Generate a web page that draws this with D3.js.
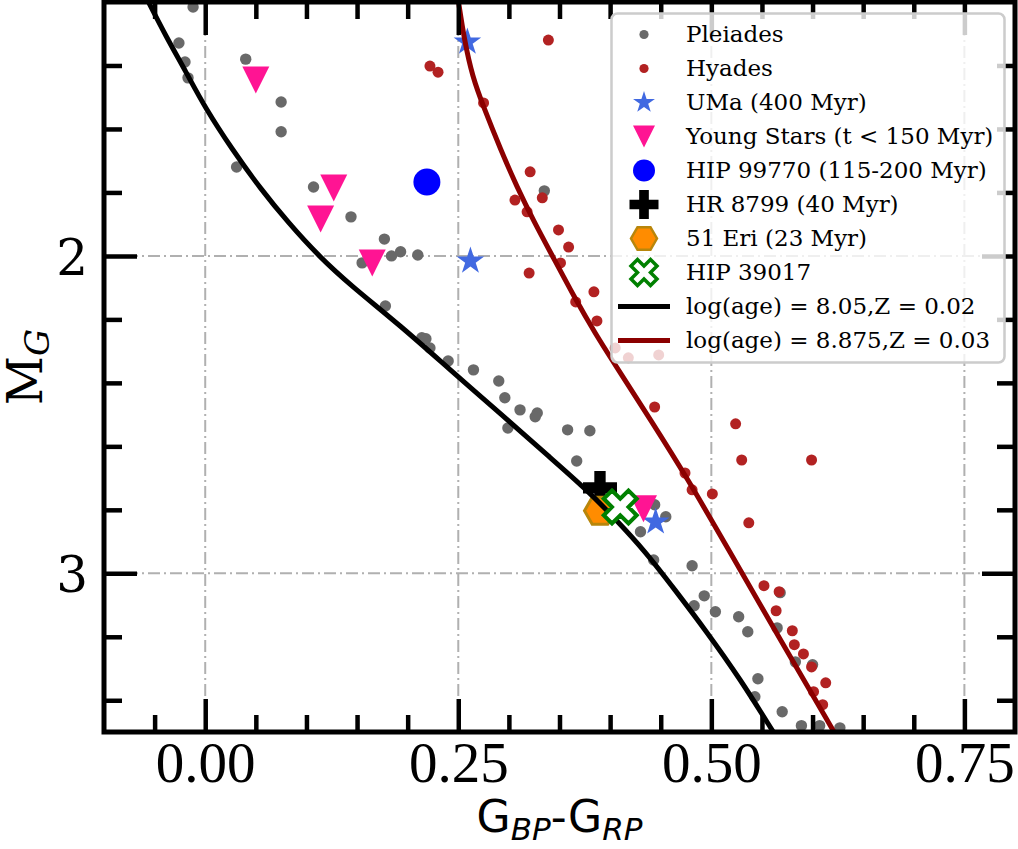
<!DOCTYPE html>
<html>
<head>
<meta charset="utf-8">
<script src="https://cdn.jsdelivr.net/npm/d3@7/dist/d3.min.js"></script>
<style>
  body { margin: 0; background: #fff; }
</style>
</head>
<body>
<svg id="cmd" width="1018" height="849"></svg>
<script>
// ---- data ----
var pleiadesX = [-0.012, -0.026, -0.020, -0.017, 0.040, 0.075, 0.075, 0.031, 0.107, 0.144, 0.177, 0.184, 0.193, 0.210, 0.155,
  0.335, 0.178, 0.214, 0.218, 0.222, 0.240, 0.265, 0.290, 0.296, 0.311, 0.328, 0.326, 0.299, 0.358, 0.380, 0.367,
  0.444, 0.455, 0.430, 0.443, 0.481, 0.493, 0.483, 0.504, 0.527, 0.536, 0.568, 0.565, 0.583, 0.600, 0.546, 0.543,
  0.570, 0.589, 0.607, 0.627];
var pleiadesY = [1.216, 1.329, 1.389, 1.439, 1.380, 1.515, 1.609, 1.720, 1.783, 1.877, 1.947, 2.000, 1.987, 1.997, 2.022,
  1.795, 2.158, 2.258, 2.261, 2.290, 2.331, 2.359, 2.394, 2.447, 2.485, 2.495, 2.507, 2.542, 2.548, 2.551, 2.646,
  2.784, 2.822, 2.869, 2.958, 2.976, 3.071, 3.102, 3.121, 3.137, 3.184, 3.061, 3.172, 3.279, 3.288, 3.332, 3.389,
  3.436, 3.480, 3.480, 3.487];

var hyadesX = [0.339, 0.222, 0.230, 0.275, 0.321, 0.306, 0.333, 0.318, 0.349, 0.359, 0.351, 0.320, 0.384, 0.366,
  0.387, 0.405, 0.418, 0.448, 0.444, 0.524, 0.530, 0.599, 0.474, 0.481, 0.501, 0.537, 0.552, 0.567, 0.564, 0.580,
  0.582, 0.591, 0.599, 0.613, 0.601, 0.610];
var hyadesY = [1.320, 1.402, 1.421, 1.518, 1.735, 1.824, 1.817, 1.861, 1.918, 1.972, 2.022, 2.054, 2.113, 2.145,
  2.205, 2.290, 2.321, 2.312, 2.476, 2.529, 2.643, 2.643, 2.684, 2.737, 2.750, 2.841, 3.039, 3.058, 3.118, 3.181,
  3.225, 3.254, 3.295, 3.345, 3.373, 3.414];

var umaX = [0.259, 0.262, 0.445];
var umaY = [1.326, 2.016, 2.838];

var youngX = [0.050, 0.127, 0.114, 0.165, 0.433];
var youngY = [1.446, 1.786, 1.884, 2.022, 2.797];

var hip99770 = [0.219, 1.767];
var hr8799 = [0.390, 2.731];
var eri51 = [0.390, 2.803];
var hip39017 = [0.410, 2.791];

// isochrones
var isoYoungX = [-0.057, -0.039, -0.019, 0.000, 0.027, 0.054, 0.083, 0.112, 0.143, 0.193, 0.242, 0.292, 0.341,
  0.376, 0.405, 0.435, 0.464, 0.494, 0.529, 0.561, 0.564];
var isoYoungY = [1.194, 1.307, 1.420, 1.534, 1.666, 1.786, 1.899, 2.000, 2.091, 2.220, 2.359, 2.498, 2.636,
  2.734, 2.828, 2.932, 3.052, 3.178, 3.335, 3.499, 3.514];
var isoOldX = [0.250, 0.256, 0.264, 0.275, 0.292, 0.308, 0.324, 0.344, 0.364, 0.385, 0.407, 0.440, 0.476,
  0.516, 0.571, 0.620, 0.625];
var isoOldY = [1.194, 1.320, 1.436, 1.531, 1.666, 1.783, 1.887, 2.006, 2.126, 2.243, 2.353, 2.517, 2.699,
  2.920, 3.225, 3.493, 3.521];

var xMajor = [0.00, 0.25, 0.50, 0.75];
var xMinor = [-0.05, 0.05, 0.10, 0.15, 0.20, 0.30, 0.35, 0.40, 0.45, 0.55, 0.60, 0.65, 0.70];
var yMajor = [2, 3];
var yMinor = [1.4, 1.6, 1.8, 2.2, 2.4, 2.6, 2.8, 3.2, 3.4];

var legendLabels = ["Pleiades", "Hyades", "UMa (400 Myr)", "Young Stars (t < 150 Myr)",
  "HIP 99770 (115-200 Myr)", "HR 8799 (40 Myr)", "51 Eri (23 Myr)", "HIP 39017",
  "log(age) = 8.05,Z = 0.02", "log(age) = 8.875,Z = 0.03"];

(function() {
// ---- layout ----
var pL = 104, pR = 1015, pT = 2, pB = 732;
var x = d3.scaleLinear().domain([-0.1, 0.8]).range([pL, pR]);
var y = d3.scaleLinear().domain([1.2, 3.5]).range([pT, pB]);

var svg = d3.select("#cmd");

svg.append("defs").append("clipPath").attr("id", "clip")
  .append("rect").attr("x", pL).attr("y", pT)
  .attr("width", pR - pL).attr("height", pB - pT);

// marker shapes (s = full width in px)
function poly(pts) { return "M" + pts.map(function(p) { return p[0].toFixed(2) + "," + p[1].toFixed(2); }).join("L") + "Z"; }
function starPath(s) {
  var R = s / 2, r = R * 0.382, pts = [];
  for (var k = 0; k < 10; k++) {
    var a = -Math.PI / 2 + k * Math.PI / 5, rr = k % 2 ? r : R;
    pts.push([rr * Math.cos(a), rr * Math.sin(a)]);
  }
  return poly(pts);
}
function triDownPath(s) { var h = s / 2; return poly([[-h, -h], [h, -h], [0, h]]); }
function plusPath(s) {
  var a = s / 6;
  return poly([[-a, -3 * a], [a, -3 * a], [a, -a], [3 * a, -a], [3 * a, a], [a, a], [a, 3 * a], [-a, 3 * a],
    [-a, a], [-3 * a, a], [-3 * a, -a], [-a, -a]]);
}
function xPath(s) {
  var u = s / 4;
  return poly([[-u, -2 * u], [0, -u], [u, -2 * u], [2 * u, -u], [u, 0], [2 * u, u], [u, 2 * u], [0, u],
    [-u, 2 * u], [-2 * u, u], [-u, 0], [-2 * u, -u]]);
}
function hexPath(s) {
  var R = s / 2, pts = [];
  for (var k = 0; k < 6; k++) pts.push([R * Math.cos(k * Math.PI / 3), R * Math.sin(k * Math.PI / 3)]);
  return poly(pts);
}

// ---- grid ----
var grid = svg.append("g").attr("stroke", "#b0b0b0").attr("stroke-width", 2).attr("stroke-dasharray", "12,4,2,4");
grid.selectAll(".gx").data(xMajor).enter().append("line")
  .attr("x1", function(d) { return x(d); }).attr("x2", function(d) { return x(d); })
  .attr("y1", pT).attr("y2", pB);
grid.selectAll(".gy").data(yMajor).enter().append("line")
  .attr("y1", function(d) { return y(d); }).attr("y2", function(d) { return y(d); })
  .attr("x1", pL).attr("x2", pR);

// ---- data marks ----
var plot = svg.append("g").attr("clip-path", "url(#clip)");

plot.selectAll(".ple").data(pleiadesX).enter().append("circle")
  .attr("cx", function(d) { return x(d); })
  .attr("cy", function(d, i) { return y(pleiadesY[i]); })
  .attr("r", 5.7).attr("fill", "#696969");

plot.selectAll(".hya").data(hyadesX).enter().append("circle")
  .attr("cx", function(d) { return x(d); })
  .attr("cy", function(d, i) { return y(hyadesY[i]); })
  .attr("r", 5.5).attr("fill", "#b22222");

plot.selectAll(".uma").data(umaX).enter().append("path")
  .attr("d", starPath(29))
  .attr("transform", function(d, i) { return "translate(" + x(d) + "," + y(umaY[i]) + ")"; })
  .attr("fill", "#4169e1");

plot.selectAll(".young").data(youngX).enter().append("path")
  .attr("d", triDownPath(27))
  .attr("transform", function(d, i) { return "translate(" + x(d) + "," + y(youngY[i]) + ")"; })
  .attr("fill", "#ff1493");

plot.append("circle").attr("cx", x(hip99770[0])).attr("cy", y(hip99770[1]))
  .attr("r", 13.5).attr("fill", "#0000ff");

plot.append("path").attr("d", plusPath(34))
  .attr("transform", "translate(" + x(hr8799[0]) + "," + y(hr8799[1]) + ")")
  .attr("fill", "#000");

plot.append("path").attr("d", hexPath(31))
  .attr("transform", "translate(" + x(eri51[0]) + "," + y(eri51[1]) + ")")
  .attr("fill", "#ff8c00").attr("stroke", "#b8860b").attr("stroke-width", 3);

var line = d3.line().curve(d3.curveBasis)
  .x(function(d) { return x(d[0]); }).y(function(d) { return y(d[1]); });

plot.append("path").datum(d3.zip(isoYoungX, isoYoungY))
  .attr("d", line).attr("fill", "none").attr("stroke", "#000").attr("stroke-width", 5);
plot.append("path").datum(d3.zip(isoOldX, isoOldY))
  .attr("d", line).attr("fill", "none").attr("stroke", "#8b0000").attr("stroke-width", 5);

plot.append("path").attr("d", xPath(33))
  .attr("transform", "translate(" + x(hip39017[0]) + "," + y(hip39017[1]) + ")")
  .attr("fill", "#fff").attr("stroke", "#008000").attr("stroke-width", 4);

// ---- axes ----
function styleAxis(g) {
  g.select(".domain").remove();
  g.selectAll(".tick line").attr("stroke", "#000").attr("stroke-width", 4.5);
}
svg.append("g").attr("transform", "translate(0," + pB + ")")
  .call(d3.axisBottom(x).tickValues(xMinor).tickSize(-17).tickFormat("")).call(styleAxis);
svg.append("g").attr("transform", "translate(0," + pT + ")")
  .call(d3.axisTop(x).tickValues(xMinor).tickSize(-17).tickFormat("")).call(styleAxis);
svg.append("g").attr("transform", "translate(" + pL + ",0)")
  .call(d3.axisLeft(y).tickValues(yMinor).tickSize(-18).tickFormat("")).call(styleAxis);
svg.append("g").attr("transform", "translate(" + pR + ",0)")
  .call(d3.axisRight(y).tickValues(yMinor).tickSize(-18).tickFormat("")).call(styleAxis);

var xAxis = svg.append("g").attr("transform", "translate(0," + pB + ")")
  .call(d3.axisBottom(x).tickValues(xMajor).tickSize(-33).tickFormat(d3.format(".2f"))).call(styleAxis);
xAxis.selectAll("text").attr("y", 50).attr("dy", null)
  .attr("font-family", "'Liberation Serif', serif").attr("font-size", 57).attr("fill", "#000");
svg.append("g").attr("transform", "translate(0," + pT + ")")
  .call(d3.axisTop(x).tickValues(xMajor).tickSize(-33).tickFormat("")).call(styleAxis);

var yAxis = svg.append("g").attr("transform", "translate(" + pL + ",0)")
  .call(d3.axisLeft(y).tickValues(yMajor).tickSize(-33).tickFormat(d3.format("d"))).call(styleAxis);
yAxis.selectAll("text").attr("x", -16).attr("dy", "0.37em")
  .attr("font-family", "'DejaVu Serif', serif").attr("font-size", 50).attr("fill", "#000");
svg.append("g").attr("transform", "translate(" + pR + ",0)")
  .call(d3.axisRight(y).tickValues(yMajor).tickSize(-33).tickFormat("")).call(styleAxis);

svg.append("rect").attr("x", pL).attr("y", pT).attr("width", pR - pL).attr("height", pB - pT)
  .attr("fill", "none").attr("stroke", "#000").attr("stroke-width", 5);

// axis labels
var xl = svg.append("text").attr("x", (pL + pR) / 2).attr("y", 832)
  .attr("text-anchor", "middle").attr("font-family", "'DejaVu Sans', sans-serif").attr("font-size", 44);
xl.append("tspan").text("G");
xl.append("tspan").attr("font-size", 31).attr("font-style", "italic").attr("dy", 8).text("BP");
xl.append("tspan").attr("dy", -8).text("-G");
xl.append("tspan").attr("font-size", 31).attr("font-style", "italic").attr("dy", 8).text("RP");

var yl = svg.append("text").attr("transform", "translate(42," + ((pT + pB) / 2) + ") rotate(-90)")
  .attr("text-anchor", "middle").attr("font-family", "'DejaVu Serif', serif").attr("font-size", 48);
yl.append("tspan").text("M");
yl.append("tspan").attr("font-size", 34).attr("font-style", "italic").attr("dy", 7).text("G");

// ---- legend ----
var lg = svg.append("g");
lg.append("rect").attr("x", 611.5).attr("y", 13.5).attr("width", 393).attr("height", 349).attr("rx", 6)
  .attr("fill", "#fff").attr("fill-opacity", 0.8).attr("stroke", "#cccccc").attr("stroke-width", 2.5);

var mx = 644, tx = 686;
function rowY(i) { return 34.5 + i * 34; }

lg.append("circle").attr("cx", mx).attr("cy", rowY(0)).attr("r", 4.6).attr("fill", "#696969");
lg.append("circle").attr("cx", mx).attr("cy", rowY(1)).attr("r", 4.6).attr("fill", "#b22222");
lg.append("path").attr("d", starPath(23)).attr("transform", "translate(" + mx + "," + rowY(2) + ")").attr("fill", "#4169e1");
lg.append("path").attr("d", triDownPath(22)).attr("transform", "translate(" + mx + "," + rowY(3) + ")").attr("fill", "#ff1493");
lg.append("circle").attr("cx", mx).attr("cy", rowY(4)).attr("r", 11).attr("fill", "#0000ff");
lg.append("path").attr("d", plusPath(29)).attr("transform", "translate(" + mx + "," + rowY(5) + ")").attr("fill", "#000");
lg.append("path").attr("d", hexPath(26)).attr("transform", "translate(" + mx + "," + rowY(6) + ")")
  .attr("fill", "#ff8c00").attr("stroke", "#b8860b").attr("stroke-width", 2.5);
lg.append("path").attr("d", xPath(26)).attr("transform", "translate(" + mx + "," + rowY(7) + ")")
  .attr("fill", "#fff").attr("stroke", "#008000").attr("stroke-width", 3.5);
lg.append("line").attr("x1", 618).attr("x2", 670).attr("y1", rowY(8)).attr("y2", rowY(8))
  .attr("stroke", "#000").attr("stroke-width", 5);
lg.append("line").attr("x1", 618).attr("x2", 670).attr("y1", rowY(9)).attr("y2", rowY(9))
  .attr("stroke", "#8b0000").attr("stroke-width", 5);

lg.selectAll(".lt").data(legendLabels).enter().append("text")
  .attr("x", tx).attr("y", function(d, i) { return rowY(i) + 7.5; })
  .attr("font-family", "'DejaVu Serif', serif").attr("font-size", 23).attr("fill", "#000")
  .text(function(d) { return d; });
})();
</script>
</body>
</html>
